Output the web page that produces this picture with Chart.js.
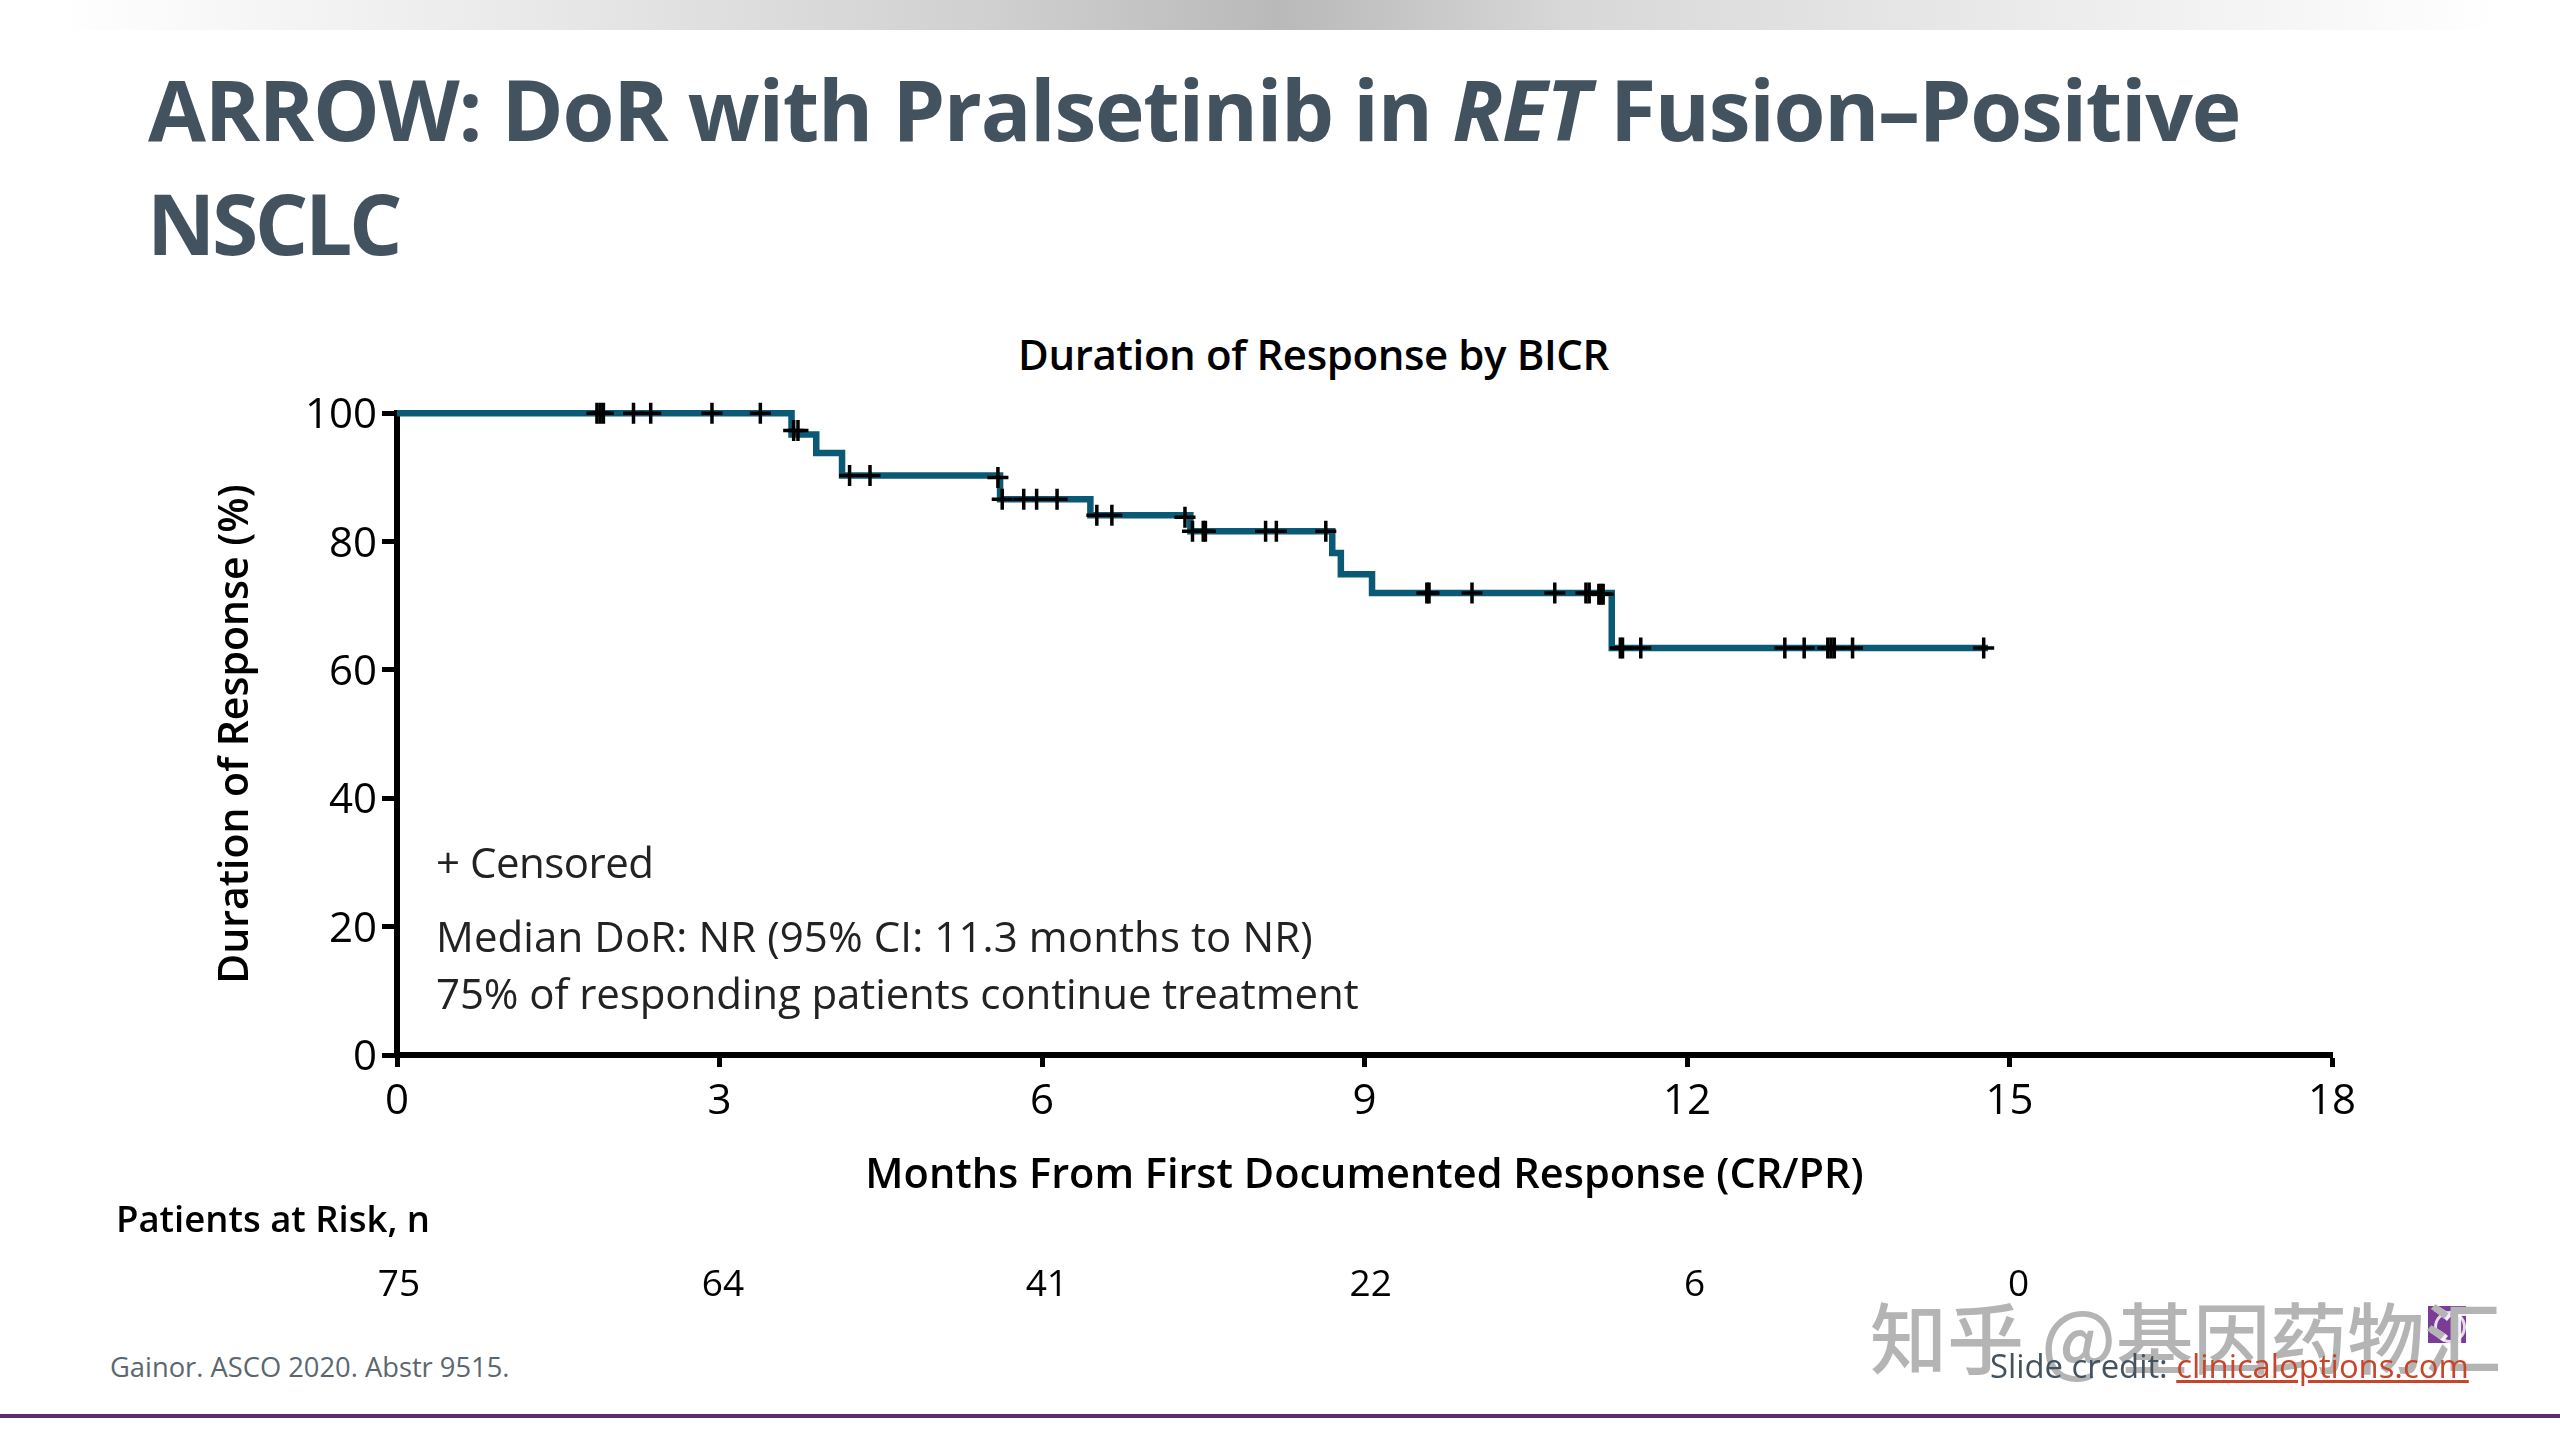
<!DOCTYPE html>
<html lang="en">
<head>
  <meta charset="UTF-8" />
  <title>ARROW: DoR with Pralsetinib</title>
  <script src="https://cdn.jsdelivr.net/npm/chart.js@4.4.1/dist/chart.umd.min.js"></script>
  <style>
    * { box-sizing: border-box; }
    html, body { margin: 0; width: 2560px; height: 1440px; background: #fff; overflow: hidden; }
    body { font-family: "Open Sans", sans-serif; position: relative; }
    .slide-text { position: absolute; white-space: nowrap; line-height: 1; }

    /* top band and bottom rule */
    .top-band {
      position: absolute; left: 60px; top: 0; width: 2440px; height: 30px;
      background: linear-gradient(90deg, #fff 0%, #e8e8e8 20%, #d0d0d0 38%, #b9b9b9 50%, #d8d8d8 62%, #e8e8e8 78%, #fff 100%);
    }
    .bottom-rule { position: absolute; left: 0; top: 1414px; width: 2560px; height: 4px; background: #5b2d6e; }

    .headline { left: 148px; font-weight: 700; font-size: 84px; color: #43525f; }
    .annotation { left: 436px; font-size: 42px; color: #222; }
    .logo { position: absolute; left: 2428px; top: 1306px; width: 38px; height: 37px; background: #7a3c96; overflow: hidden; }
    .logo::after {
      content: ""; position: absolute; left: 6px; top: 5px; width: 26px; height: 26px;
      border: 3px solid #e6dcea; border-radius: 50%;
    }
    .watermark {
      left: 1870px; top: 1296px; font-family: "Noto Sans CJK SC", sans-serif; font-size: 77px; font-weight: 500;
      color: #b4b4b4; text-shadow: 3px 2px 0 rgba(255,255,255,0.9);
    }
    #chartBox { position: absolute; left: 212px; top: 383px; }
  </style>
</head>
<body>
  <div class="top-band"></div>
  <div class="slide-text headline" style="top:67px;letter-spacing:-1.3px">ARROW: DoR with Pralsetinib in <i>RET</i> Fusion–Positive</div>
  <div class="slide-text headline" style="top:181px;left:147px;letter-spacing:-3.4px">NSCLC</div>

  <div class="slide-text" style="left:1018px;top:333px;font-size:42px;font-weight:600;color:#000;letter-spacing:-0.4px">Duration of Response by BICR</div>

  <div id="chartBox"><canvas id="kmChart" width="2208" height="960"></canvas></div>

  <div class="slide-text annotation" style="top:841px;letter-spacing:-0.5px">+ Censored</div>
  <div class="slide-text annotation" style="top:915px;letter-spacing:0.1px">Median DoR: NR (95% CI: 11.3 months to NR)</div>
  <div class="slide-text annotation" style="top:972px;letter-spacing:-0.1px">75% of responding patients continue treatment</div>

  <div class="slide-text" style="left:116px;top:1200px;font-size:36.5px;font-weight:600;color:#000">Patients at Risk, n</div>
  <div class="slide-text" style="left:110px;top:1353px;font-size:27.3px;color:#5b6770">Gainor. ASCO 2020. Abstr 9515.</div>

  <div class="logo"></div>
  <div class="slide-text watermark">知乎 @基因药物汇</div>
  <div class="slide-text" style="left:1990px;top:1350px;font-size:32.8px;color:#43525f">Slide credit: <span style="color:#c8452a;text-decoration:underline">clinicaloptions.com</span></div>
  <div class="bottom-rule"></div>

  <script>
    // values
    const stepMonths = [0, 3.67, 3.90, 4.14, 5.61, 6.45, 7.38, 8.70, 8.78, 9.07, 11.30, 14.8];
    const stepPercent = [100, 96.7, 93.8, 90.3, 86.6, 84.1, 81.6, 78.2, 74.9, 72.0, 63.4, 63.4];

    const censorMonths = [1.86, 1.89, 1.92, 2.20, 2.36, 2.93, 3.38, 3.69, 3.73, 4.21, 4.40, 5.59,
      5.63, 5.83, 5.95, 6.14, 6.51, 6.65, 7.33, 7.40, 7.50, 7.52, 8.08, 8.18, 8.64,
      9.58, 9.60, 10.0, 10.77, 11.06, 11.09, 11.18, 11.20, 11.22, 11.38, 11.40, 11.57,
      12.91, 13.09, 13.31, 13.34, 13.37, 13.54, 14.76];
    const censorPercent = [100, 100, 100, 100, 100, 100, 100, 97.3, 97.3, 90.3, 90.3, 90,
      86.6, 86.6, 86.6, 86.6, 84.1, 84.1, 83.8, 81.6, 81.6, 81.6, 81.6, 81.6, 81.6,
      72, 72, 72, 72, 72, 72, 71.8, 71.8, 71.8, 63.4, 63.4, 63.4,
      63.4, 63.4, 63.4, 63.4, 63.4, 63.4, 63.4];

    const xTicks = [0, 3, 6, 9, 12, 15, 18];
    const yTicks = [0, 20, 40, 60, 80, 100];
    const riskMonths = [0, 3, 6, 9, 12, 15];
    const patientsAtRisk = [75, 64, 41, 22, 6, 0];

    const toXY = (xs, ys) => xs.map((x, i) => ({ x: x, y: ys[i] }));

    // number-at-risk row sits under the x axis
    const riskRow = {
      id: "riskRow",
      afterDraw(chart) {
        const { ctx, scales } = chart;
        ctx.save();
        ctx.font = '37px "Open Sans"';
        ctx.fillStyle = "#000";
        ctx.textAlign = "center";
        ctx.textBaseline = "middle";
        riskMonths.forEach((m, i) => {
          ctx.fillText(String(patientsAtRisk[i]), scales.x.getPixelForValue(m) + 2 + i * 1.4, 1285 - 383);
        });
        ctx.restore();
      },
    };

    new Chart(document.getElementById("kmChart"), {
      type: "scatter",
      data: {
        datasets: [
          {
            label: "Censored",
            data: toXY(censorMonths, censorPercent),
            pointStyle: "cross",
            pointRadius: 10.5,
            pointBorderWidth: 3.5,
            pointBorderColor: "#000",
            showLine: false,
            clip: false,
          },
          {
            label: "Pralsetinib",
            data: toXY(stepMonths, stepPercent),
            showLine: true,
            stepped: true,
            borderColor: "#0b5a75",
            borderWidth: 6.5,
            pointRadius: 0,
            clip: false,
          },
        ],
      },
      options: {
        responsive: false,
        animation: false,
        layout: { padding: { top: 30, right: 88, left: 0, bottom: 138 } },
        plugins: { legend: { display: false }, tooltip: { enabled: false } },
        scales: {
          x: {
            type: "linear",
            min: 0,
            max: 18,
            afterBuildTicks: (s) => { s.ticks = xTicks.map((v) => ({ value: v })); },
            afterFit: (s) => { s.height = 150; },
            border: { color: "#000", width: 6 },
            grid: { drawOnChartArea: false, drawTicks: true, tickLength: 12, tickWidth: 5, tickColor: "#000" },
            ticks: { color: "#000", font: { family: "Open Sans", size: 42 }, padding: 10, maxRotation: 0 },
            title: {
              display: true,
              text: "Months From First Documented Response (CR/PR)",
              color: "#000",
              font: { family: "Open Sans", size: 41.5, weight: "600" },
              padding: { top: 12 },
            },
          },
          y: {
            min: 0,
            max: 100,
            afterBuildTicks: (s) => { s.ticks = yTicks.map((v) => ({ value: v })); },
            afterFit: (s) => { s.width = 397 - 212; },
            border: { color: "#000", width: 6 },
            grid: { drawOnChartArea: false, drawTicks: true, tickLength: 15, tickWidth: 5, tickColor: "#000" },
            ticks: { color: "#000", font: { family: "Open Sans", size: 42 }, padding: 5, labelOffset: 3 },
            title: {
              display: true,
              text: "Duration of Response (%)",
              color: "#000",
              font: { family: "Open Sans", size: 41, weight: "600" },
              padding: 0,
            },
          },
        },
      },
      plugins: [riskRow],
    });
  </script>
</body>
</html>
